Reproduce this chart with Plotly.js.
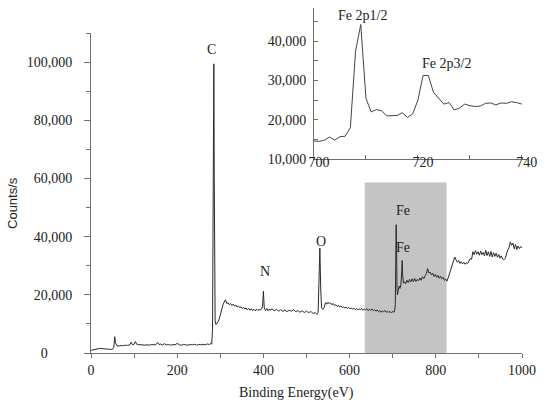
<!DOCTYPE html>
<html>
<head>
<meta charset="utf-8">
<script src="https://cdn.plot.ly/plotly-3.0.1.min.js"></script>
<style>html,body{margin:0;padding:0;background:#fff;}#chart{width:550px;height:408px;}</style>
</head>
<body>
<div id="chart"></div>
<script>
// Survey spectrum (binding energy in eV, counts/s)
const energy = [0,5,10,15,20,25,30,35,40,45,50,53,55,57,60,65,70,75,80,85,90,93,96,100,103,106,110,115,120,125,130,135,140,145,150,155,158,162,165,170,175,180,185,190,195,200,205,210,215,220,225,230,235,240,245,250,255,260,265,270,275,278,280,282,284,285,286,287,288,290,293,296,300,303,306,309,312,315,318,321,324,327,330,333,336,339,342,345,348,351,354,357,360,363,366,369,372,375,378,381,384,387,390,393,396,398,400,402,405,408,411,414,415,420,425,430,435,440,445,450,455,460,465,470,475,480,485,490,495,500,505,510,515,520,524,527,529,531,533,535,538,541,544,547,550,553,556,559,562,565,568,571,574,577,580,583,586,589,592,595,598,601,604,607,610,613,616,619,622,625,628,631,634,637,640,643,646,649,652,655,658,661,664,667,670,673,676,679,682,685,688,691,694,697,700,703,705,706,707,708,709,710,711,713,715,717,719,721,722,723,725,727,730,733,736,739,742,745,748,751,754,757,760,763,766,769,772,775,778,781,784,787,790,793,796,799,802,805,808,811,814,817,820,823,826,829,832,835,838,841,844,847,850,853,856,859,862,865,868,871,874,877,880,883,886,889,892,895,898,901,904,907,910,913,916,919,922,925,928,931,934,937,940,943,946,949,952,955,958,961,964,967,970,973,976,979,982,985,988,991,994,997,1000];
const counts = [900,1100,1300,1500,1600,1500,1400,1300,1200,1250,1300,2000,5600,3500,2500,2400,2600,2500,2700,2600,2800,3700,2900,3000,3900,3000,2900,2800,2900,2700,2800,2700,2900,2800,2800,3600,2900,3100,2700,3200,2800,2900,2700,2900,2800,3300,2800,2700,2900,2800,2700,2900,2800,3000,2700,2900,2800,3000,2800,3100,2900,3300,3000,8000,60000,99400,60000,20000,11000,9800,10500,11000,13000,15000,16500,17500,18300,17000,17300,16600,17000,16300,16800,16100,16500,15800,16200,15600,15900,15300,15700,15100,15500,14800,15300,14700,15200,14600,15000,14500,15100,14600,15000,14700,15200,16000,21200,15500,14600,15300,14500,15100,14700,15200,14500,15000,14400,14900,14300,14800,14200,14700,14400,14900,14200,14600,14000,14500,13900,14400,13800,14300,13600,13900,13300,14000,22000,36100,22000,15500,15000,15600,17300,16800,17500,16900,17200,16600,17000,16300,16600,16000,16400,15800,16200,15600,15900,15400,15800,15300,15700,15200,15500,15000,15400,14900,15300,14800,15200,14900,15300,14700,15100,14800,15200,14600,15000,14700,15100,14500,14900,14400,14800,14200,14600,14000,14500,14200,14600,14000,14400,13900,14300,13800,14300,14000,15000,17000,30000,44100,36000,22000,20000,21500,23000,22200,23500,28000,31800,27000,24000,24500,23800,25000,24200,25300,24400,25500,24500,25600,24600,25300,24800,25800,25000,26200,25600,26500,27200,29000,27500,27800,26800,27400,26300,27000,26000,26700,25700,26400,25500,26000,25000,25400,24700,26000,27500,29000,30500,31500,33000,32000,31200,31800,30800,31400,30600,31200,30500,31000,30800,31600,32500,32200,34800,33800,35200,34000,34800,33600,35000,33800,34600,33400,35300,33500,34800,33200,34900,33000,34500,33200,34300,32900,33900,32600,33400,32300,32000,32500,34500,35500,36200,38200,37000,37800,35800,37300,35600,36800,35900,36600,36200];

// Inset: Fe 2p region
const feEnergy = [700,701,702,703,704,705,706,707,708,709,710,711,712,713,714,715,716,717,718,719,720,721,722,723,724,725,726,727,728,729,730,731,732,733,734,735,736,737,738,739,740];
const feCounts = [14600,14500,14800,15600,14800,15700,15800,18000,37500,44300,25500,22000,22600,22300,21000,21000,21100,21800,20600,21500,25000,31300,31300,27000,25500,24000,24400,22500,23000,24000,23600,23400,23500,24200,24300,23800,24300,24200,24600,24400,24000];

// Main y-axis tick labels (the "0" label sits further left in the original)
const yTickVals = [0,20000,40000,60000,80000,100000];
const yTickText = ['0\u00a0\u00a0\u00a0\u00a0\u00a0\u00a0\u00a0','20,000','40,000','60,000','80,000','100,000'];

const peakLabels = ['C','N','O','Fe','Fe'];
const peakLabelX = [280,404,534,725,725];
const peakLabelY = [104300,27950,38400,48900,36100];
const insetLabels = ['Fe 2p1/2','Fe 2p3/2'];
const insetLabelX = [709.3,725.5];
const insetLabelY = [46700,34400];

const serif = 'Liberation Serif, Times New Roman, serif';
const txt = '#222';
const axc = '#707070';

const traces = [
  {x: energy, y: counts, type:'scatter', mode:'lines', line:{color:'#2a2a2a', width:1}, xaxis:'x', yaxis:'y', hoverinfo:'skip'},
  {x: feEnergy, y: feCounts, type:'scatter', mode:'lines', line:{color:'#444', width:1}, xaxis:'x2', yaxis:'y2', hoverinfo:'skip'}
];

const annotations = [];
peakLabels.forEach((t,i)=>annotations.push({text:t, x:peakLabelX[i], y:peakLabelY[i], xref:'x', yref:'y', showarrow:false, font:{family:serif,size:14,color:txt}}));
insetLabels.forEach((t,i)=>annotations.push({text:t, x:insetLabelX[i], y:insetLabelY[i], xref:'x2', yref:'y2', showarrow:false, font:{family:serif,size:14,color:txt}}));
annotations.push({text:'Binding Energy(eV)', xref:'paper', yref:'paper', x:0.468, y:-0.115, xanchor:'center', yanchor:'middle', showarrow:false, font:{family:serif,size:14,color:txt}});
annotations.push({text:'Counts/s', xref:'paper', yref:'paper', x:-0.180, y:0.431, xanchor:'center', yanchor:'middle', textangle:-90, showarrow:false, font:{family:'Liberation Sans, Arial, sans-serif',size:13,color:txt}});

const layout = {
  width:550, height:408,
  margin:{l:91, r:20, t:5, b:55, pad:0},
  paper_bgcolor:'#fff', plot_bgcolor:'rgba(0,0,0,0)',
  showlegend:false,
  font:{family:serif, size:14, color:txt},
  xaxis:{domain:[0,0.98178], range:[0,1000], anchor:'y', showline:true, linecolor:axc, linewidth:1, ticks:'outside', ticklen:4, tickcolor:axc, tick0:0, dtick:200,
    minor:{dtick:100, ticks:'outside', ticklen:4, tickcolor:axc}, showgrid:false, zeroline:false, tickfont:{family:serif,size:14,color:txt}},
  yaxis:{domain:[0,0.91954], range:[0,110000], anchor:'x', showline:true, linecolor:axc, linewidth:1, ticks:'outside', ticklen:6, tickcolor:axc,
    tickmode:'array', tickvals:yTickVals, ticktext:yTickText,
    minor:{tickmode:'linear', tick0:0, dtick:10000, ticks:'outside', ticklen:4, tickcolor:axc}, showgrid:false, zeroline:false, tickfont:{family:serif,size:14,color:txt}, ticklabelstandoff:9},
  xaxis2:{domain:[0.50797,0.99317], range:[700,741], anchor:'y2', showline:true, linecolor:axc, linewidth:1, ticks:'inside', ticklen:4, tickcolor:axc, tick0:700, dtick:20,
    minor:{dtick:10, ticks:'inside', ticklen:4, tickcolor:axc}, showgrid:false, zeroline:false, tickfont:{family:serif,size:14,color:txt}, ticklabelstandoff:-10, ticklabelshift:5},
  yaxis2:{domain:[0.55747,0.99052], range:[10000,48440], anchor:'x2', showline:true, linecolor:axc, linewidth:1, ticks:'inside', ticklen:4, tickcolor:axc, tick0:10000, dtick:10000, tickformat:',d',
    minor:{dtick:5000, ticks:'inside', ticklen:4, tickcolor:axc}, showgrid:false, zeroline:false, tickfont:{family:serif,size:14,color:txt}, ticklabelstandoff:4},
  shapes:[{type:'rect', xref:'x', yref:'y', x0:635, x1:825, y0:0, y1:58600, fillcolor:'#c4c4c4', line:{width:0}, layer:'below'}],
  annotations: annotations
};

Plotly.newPlot('chart', traces, layout, {staticPlot:true, displayModeBar:false});
</script>
</body>
</html>
